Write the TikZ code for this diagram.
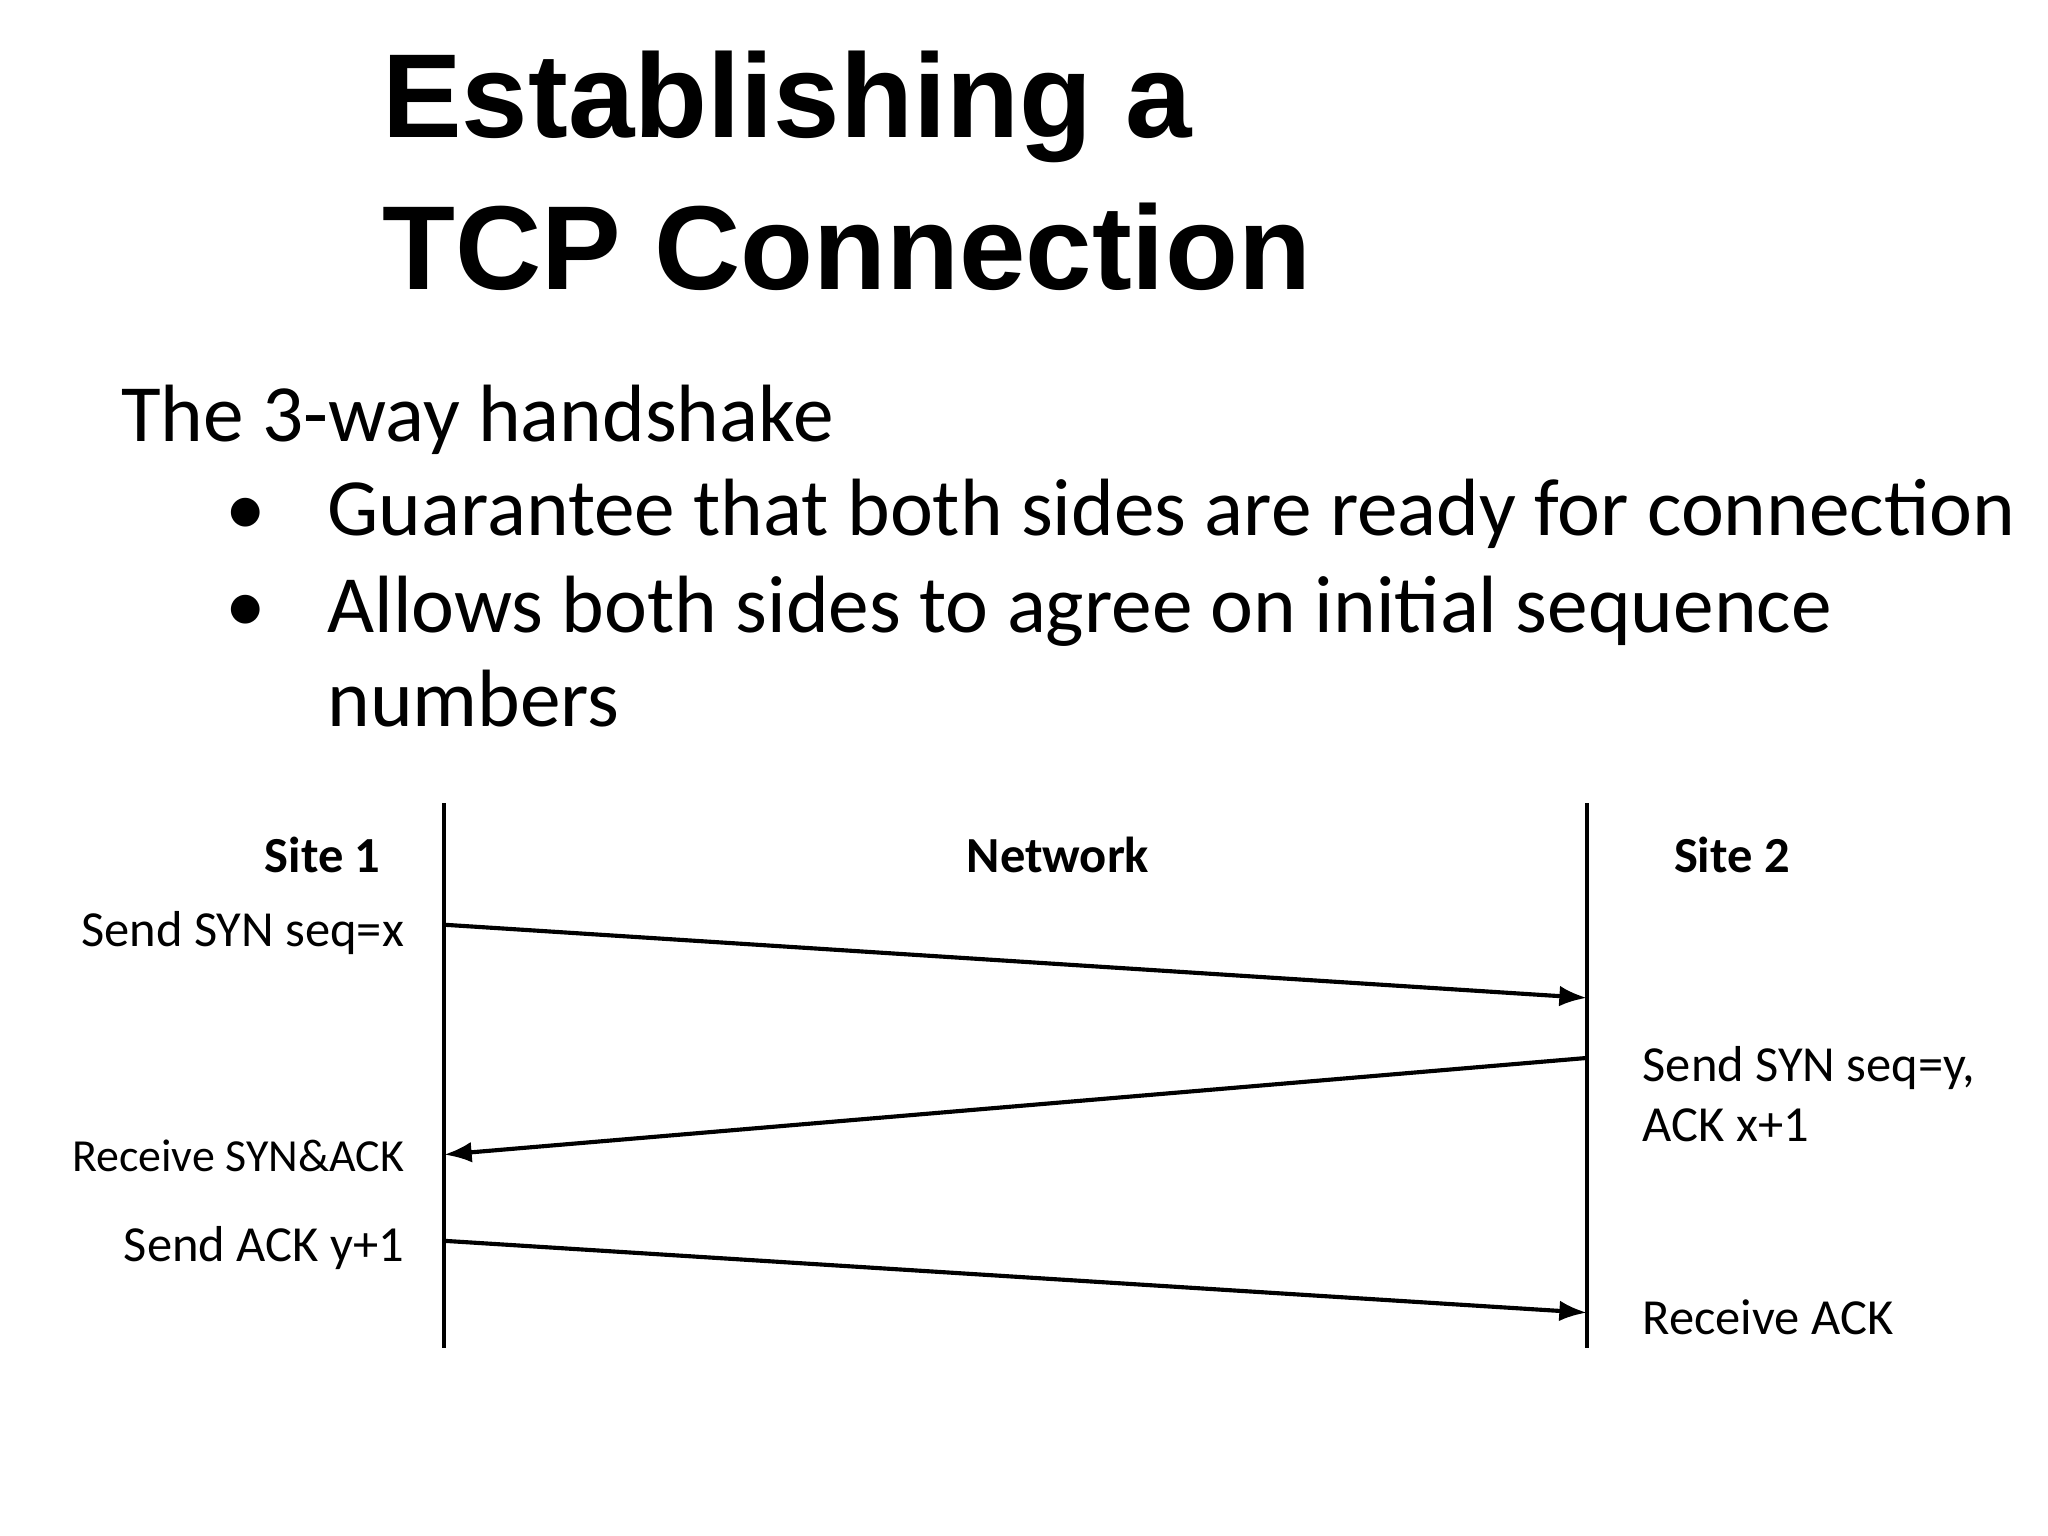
\documentclass[tikz,border=0pt]{standalone}
\usepackage{fontspec}
\setmainfont{Carlito}
\newfontfamily\ttlfont{Liberation Sans}
\usetikzlibrary{arrows.meta}
\begin{document}
\begin{tikzpicture}[x=0.01cm,y=-0.01cm,
  title/.style={anchor=base west,inner sep=0,font=\ttlfont\bfseries\fontsize{26}{30}\selectfont},
  body/.style={anchor=base west,inner sep=0,font=\fontsize{17.7}{20}\selectfont},
  lbl/.style={inner sep=0,font=\fontsize{11}{13}\selectfont},
  hdr/.style={anchor=base,inner sep=0,font=\bfseries\fontsize{11}{13}\selectfont},
  life/.style={line width=0.8pt},
  msg/.style={line width=0.9pt,-{Latex[length=6pt,width=4.5pt]}}]
\useasboundingbox (0,0) rectangle (1568,1176);
\node[title] (t1) at (292,105) {Establishing a};
\node[title] (t2) at (292,222) {TCP Connection};
\node[body] (b0) at (92,338) {The 3-way handshake};
\node[body] (d1) at (172,410) {•};
\node[body] (b1) at (250,410) {Guarantee that both sides are ready for connection};
\node[body] (d2) at (172,484) {•};
\node[body] (b2) at (250,484) {Allows both sides to agree on initial sequence};
\node[body] (b3) at (250,556) {numbers};
\coordinate (l1) at (340,615); \coordinate (l2) at (340,1032);
\coordinate (r1) at (1215,615); \coordinate (r2) at (1215,1032);
\draw[life] (l1) -- (l2);
\draw[life] (r1) -- (r2);
\node[hdr,anchor=base east] (s1) at (292,668) {Site 1};
\node[hdr] (nw) at (810,668) {Network};
\node[hdr] (s2) at (1326,668) {Site 2};
\coordinate (a1) at (340,708); \coordinate (a2) at (1215,764);
\coordinate (b1c) at (1215,810); \coordinate (b2c) at (340,884);
\coordinate (c1) at (340,950); \coordinate (c2) at (1215,1005);
\draw[msg] (a1) -- (a2);
\draw[msg] (b1c) -- (b2c);
\draw[msg] (c1) -- (c2);
\node[lbl,anchor=base east] (m1) at (310,725) {Send SYN seq=x};
\node[lbl,anchor=base east,font=\fontsize{10}{12}\selectfont] (m2) at (310,897) {Receive SYN\&ACK};
\node[lbl,anchor=base east] (m3) at (310,966) {Send ACK y+1};
\node[lbl,anchor=base west] (m4) at (1257,828) {Send SYN seq=y,};
\node[lbl,anchor=base west] (m5) at (1257,874) {ACK x+1};
\node[lbl,anchor=base west] (m6) at (1257,1022) {Receive ACK};
\end{tikzpicture}
\end{document}
